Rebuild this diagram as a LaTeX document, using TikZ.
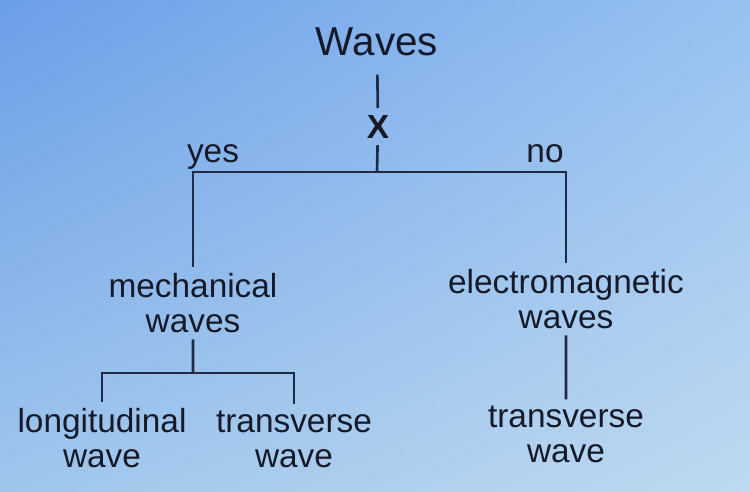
\documentclass[tikz,border=0pt]{standalone}
\usepackage{fontspec}
\setmainfont{Liberation Sans}
\usetikzlibrary{shadings}
\definecolor{ink}{RGB}{22,26,40}
\definecolor{wirecol}{RGB}{32,42,66}
\definecolor{bgul}{RGB}{108,158,232}
\definecolor{bgur}{RGB}{150,194,240}
\definecolor{bgll}{RGB}{158,198,236}
\definecolor{bglr}{RGB}{190,217,241}
\begin{document}
\begin{tikzpicture}[scale=0.2]
\tikzstyle{every node}+=[inner sep=0pt, outer sep=4pt, text=ink, anchor=base]
\tikzstyle{lbl}=[font=\fontsize{19}{19.4}\selectfont, align=center]
\tikzstyle{branch}=[draw=wirecol, line width=1.5pt]
\useasboundingbox (0,0) rectangle (75,-49.1);
\shade [upper left=bgul, upper right=bgur, lower left=bgll, lower right=bglr] (0,0) rectangle (75,-49.1);
\node (waves) at (37.7,-5.5) [font=\fontsize{23}{24}\selectfont] {Waves};
\node (xmark) at (37.8,-13.8) [lbl] {\textbf{X}};
\node (yes) at (21.3,-16.2) [lbl] {yes};
\node (no) at (54.5,-16.2) [lbl] {no};
\node (mech) at (19.3,-33.2) [lbl] {mechanical\\waves};
\node (em) at (56.6,-32.8) [lbl] {electromagnetic\\waves};
\node (long) at (10.2,-46.7) [lbl] {longitudinal\\wave};
\node (transl) at (29.4,-46.7) [lbl] {transverse\\wave};
\node (transr) at (56.6,-46.2) [lbl] {transverse\\wave};
\coordinate (split) at (37.7,-17.2);
\coordinate (msplit) at (19.3,-37.3);
\draw [branch, shorten <=7pt] (waves) -- (xmark);
\draw [branch] (xmark) -- (split);
\draw [branch] (mech) |- (split) -| (em);
\draw [branch] (mech) -- (msplit);
\draw [branch] (long) |- (msplit) -| (transl);
\draw [branch] (em) -- (transr);
\end{tikzpicture}
\end{document}
